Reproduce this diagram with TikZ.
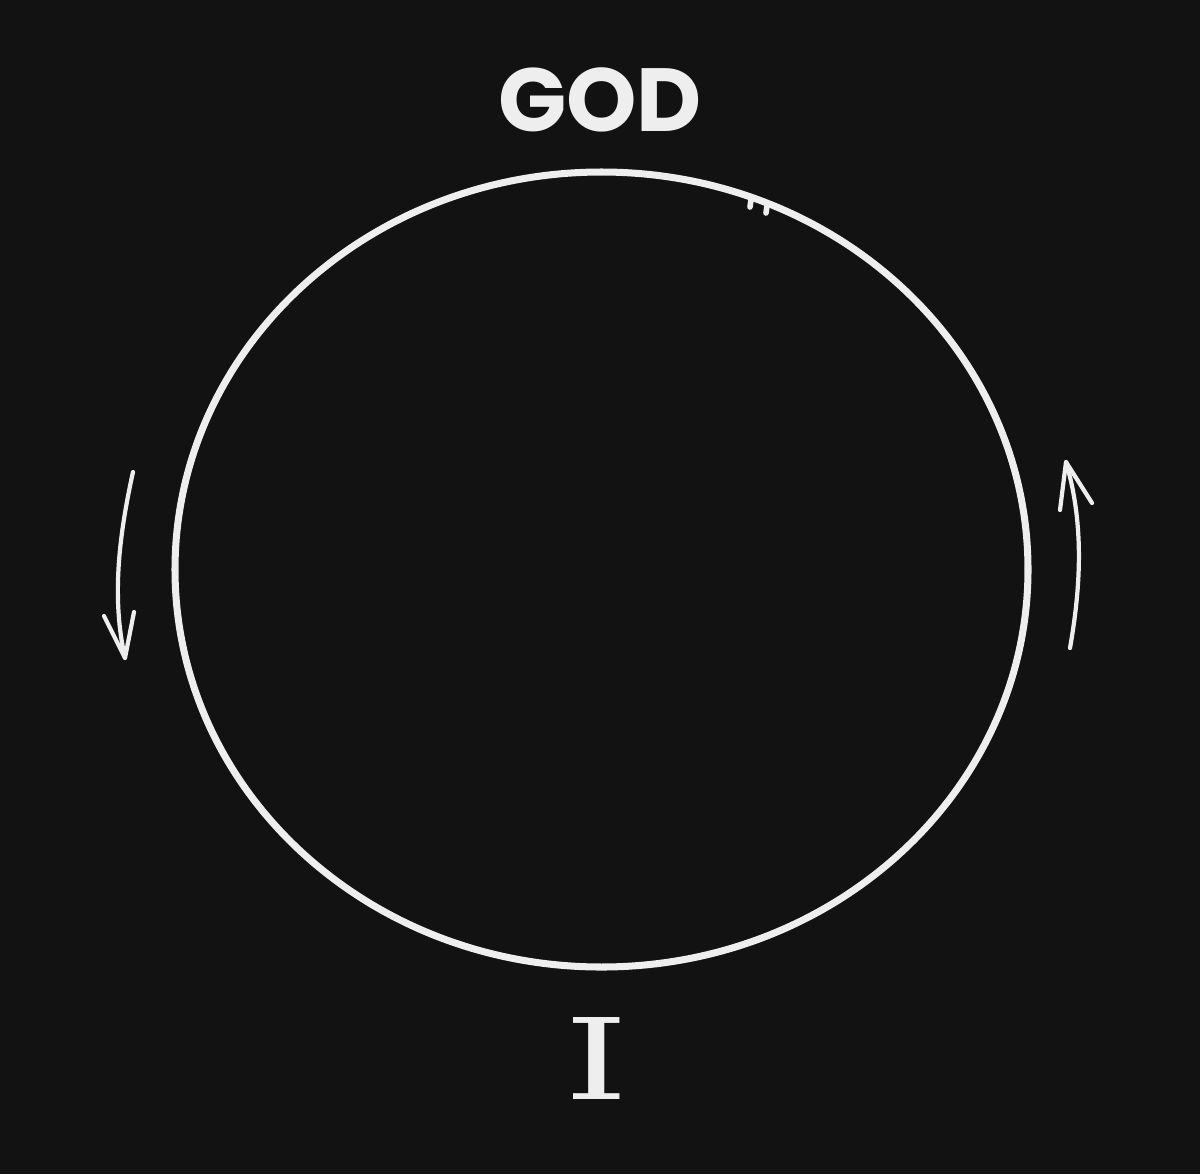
\documentclass[tikz,border=0pt]{standalone}
\usepackage{fontspec}
\usepackage{graphicx}
\newfontfamily\handfont{Poppins}
\newfontfamily\slabfont{DejaVu Serif}
\definecolor{bg}{HTML}{121212}
\definecolor{ink}{HTML}{EEEEEE}
\begin{document}
\begin{tikzpicture}[x=0.02cm,y=-0.02cm,
  stroke/.style={draw=ink,line width=4pt,line cap=round,line join=round},
  thin stroke/.style={draw=ink,line width=2.4pt,line cap=round,line join=round}]
\fill[bg] (0,0) rectangle (1200,1174);
\useasboundingbox (0,0) rectangle (1200,1174);
% circle
\draw[stroke] (601.5,569.5) ellipse [x radius=426.5, y radius=397.5];
% little ticks on the top
\draw[draw=ink,line width=3.2pt,line cap=round] (751,200) -- (750,207);
\draw[draw=ink,line width=3.2pt,line cap=round] (767,206) -- (766,213);
% texts
\node[text=ink,font=\handfont\bfseries\fontsize{51}{51}\selectfont] (god) at (600,100) {GOD};
\node[text=ink,font=\slabfont\fontsize{64}{64}\selectfont] (me) at (597,1058) {\scalebox{1.45}[1]{I}};
% left arrow (downwards)
\coordinate (la1) at (133,472);
\coordinate (la2) at (125,658);
\draw[thin stroke] (la1) .. controls (118,540) and (112,600) .. (la2);
\draw[thin stroke] (104,616) -- (la2) -- (134,612);
% right arrow (upwards)
\coordinate (ra1) at (1070,648);
\coordinate (ra2) at (1066,462);
\draw[thin stroke] (ra1) .. controls (1082,580) and (1083,520) .. (ra2);
\draw[thin stroke] (1060,510) -- (ra2) -- (1092,503);
\end{tikzpicture}
\end{document}
